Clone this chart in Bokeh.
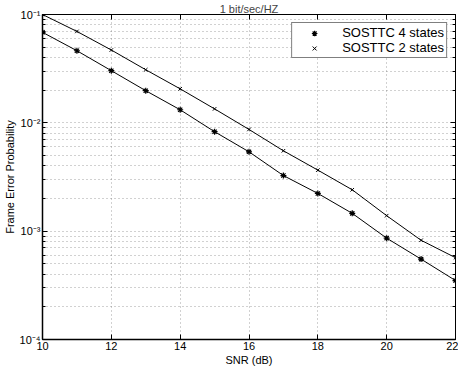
from bokeh.plotting import figure
from bokeh.models import (FixedTicker, LogAxis, LinearAxis, Legend, LegendItem,
                          CustomJSTickFormatter, Range1d)
from bokeh.embed import file_html
from bokeh.resources import INLINE

# ---- data ----
snr = [10, 11, 12, 13, 14, 15, 16, 17, 18, 19, 20, 21, 22]
fep_4_states = [0.0685, 0.0463, 0.0303, 0.0198, 0.0132, 0.00828, 0.0054,
                0.00326, 0.00223, 0.00146, 0.000862, 0.000552, 0.00035]
fep_2_states = [0.100, 0.0698, 0.047, 0.0309, 0.0206, 0.01345, 0.00869,
                0.00552, 0.00366, 0.00241, 0.00139, 0.000824, 0.000569]
x_ticks = [10, 12, 14, 16, 18, 20, 22]
y_exponents = [-4, -3, -2, -1]
y_tick_labels = ["10\u207b\u2074", "10\u207b\u00b3", "10\u207b\u00b2", "10\u207b\u00b9"]
series_labels = ["SOSTTC 4 states", "SOSTTC 2 states"]
title_text = "1 bit/sec/HZ"
x_label = "SNR (dB)"
y_label = "Frame Error Probability"

FONT = "Liberation Sans"

y_major = [10.0 ** e for e in y_exponents]
y_minor = [k * 10.0 ** e for e in y_exponents[:-1] for k in range(2, 10)]

p = figure(width=458, height=368, output_backend="svg", toolbar_location=None,
           y_axis_type="log",
           x_range=Range1d(10, 22), y_range=Range1d(1e-4, 1e-1),
           min_border_left=0, min_border_right=3, min_border_bottom=0,
           min_border_top=0)

p.title.text = title_text
p.title.align = "center"
p.title.text_font = FONT
p.title.text_font_size = "11px"
p.title.text_font_style = "normal"
p.title.standoff = 0
p.title.offset = 0

p.background_fill_color = "white"
p.outline_line_color = "black"
p.outline_line_width = 1

fmt = CustomJSTickFormatter(args=dict(exps=y_exponents, labels=y_tick_labels), code="""
const e = Math.round(Math.log10(tick));
const i = exps.indexOf(e);
return i >= 0 ? labels[i] : "";
""")
blank = CustomJSTickFormatter(code="return '';")

xt = FixedTicker(ticks=x_ticks)
yt = FixedTicker(ticks=y_major, minor_ticks=y_minor)

for ax in p.xaxis:
    ax.ticker = xt
for ax in p.yaxis:
    ax.ticker = yt
    ax.formatter = fmt

def style_axis(ax, show_labels=True, width=1.5):
    ax.axis_line_color = "black"
    ax.axis_line_width = width
    ax.major_tick_in = 5
    ax.major_tick_out = 0
    ax.minor_tick_in = 3
    ax.minor_tick_out = 0
    ax.major_tick_line_color = "black"
    ax.minor_tick_line_color = "black"
    ax.major_label_text_font = FONT
    ax.major_label_text_font_size = "11px"
    ax.major_label_text_color = "black"
    ax.axis_label_text_font = FONT
    ax.axis_label_text_font_size = "11px"
    ax.axis_label_text_font_style = "normal"
    ax.axis_label_text_color = "black"
    ax.major_label_standoff = 2
    ax.axis_label_standoff = 1
    if not show_labels:
        ax.major_label_text_font_size = "0px"
        ax.major_label_standoff = 0
        ax.formatter = blank

style_axis(p.xaxis[0])
style_axis(p.yaxis[0])
p.xaxis[0].axis_label = x_label
p.yaxis[0].axis_label = y_label
p.xaxis[0].minor_tick_line_color = None

right_ax = LogAxis(ticker=yt)
style_axis(right_ax, show_labels=False, width=1)
top_ax = LinearAxis(ticker=xt)
style_axis(top_ax, show_labels=False, width=1)
top_ax.minor_tick_line_color = None
p.add_layout(right_ax, "right")
p.add_layout(top_ax, "above")

# grid
p.xgrid.ticker = xt
p.ygrid.ticker = yt
for g in (p.xgrid[0], p.ygrid[0]):
    g.grid_line_color = "#666666"
    g.grid_line_alpha = 0.6
    g.grid_line_dash = "1 3"
    g.grid_line_width = 1
p.ygrid[0].minor_grid_line_color = "#666666"
p.ygrid[0].minor_grid_line_alpha = 0.6
p.ygrid[0].minor_grid_line_dash = "1 3"

# lines
p.line(snr, fep_4_states, line_color="black", line_width=1)
p.line(snr, fep_2_states, line_color="black", line_width=1)
m4 = p.scatter(snr, fep_4_states, marker="asterisk", size=6, line_color="black",
               fill_color="black", line_width=1.2)
m2 = p.scatter(snr, fep_2_states, marker="x", size=5, line_color="black",
               line_width=1)

legend = Legend(items=[LegendItem(label=series_labels[0], renderers=[m4]),
                       LegendItem(label=series_labels[1], renderers=[m2])],
                location="top_right")
legend.label_text_font = FONT
legend.label_text_font_size = "13px"
legend.label_text_color = "black"
legend.border_line_color = "black"
legend.border_line_width = 1
legend.background_fill_color = "white"
legend.background_fill_alpha = 1
legend.spacing = -3
legend.padding = 2
legend.margin = 8
legend.glyph_width = 40
legend.glyph_height = 14
legend.label_standoff = 8
legend.label_height = 13
p.add_layout(legend, "center")

open("out.html", "w").write(file_html(p, INLINE))
